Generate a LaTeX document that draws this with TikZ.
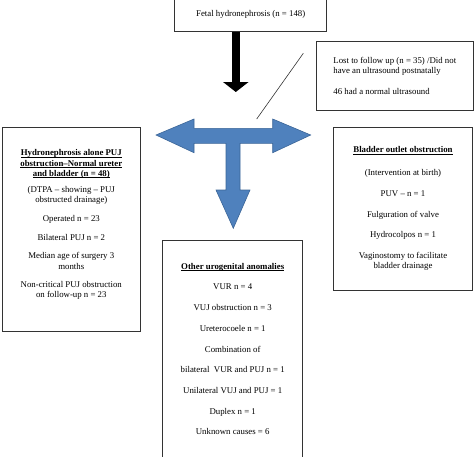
\documentclass[tikz,border=0pt]{standalone}
\usepackage{amsmath}
\usepackage{fontspec}
\setmainfont{Liberation Serif}
\usetikzlibrary{arrows.meta}
\definecolor{arrowblue}{HTML}{4F81BD}
\definecolor{arrowedge}{HTML}{3B6597}
\newcommand{\headline}[1]{\underline{\smash[b]{\textbf{#1}}}}

\begin{document}
\begin{tikzpicture}[x=1pt,y=-1pt,
    box/.style={draw=black!80,line width=0.8pt,fill=white,inner sep=0pt,align=center,
      font=\fontsize{8.8}{10.3}\selectfont}]
    \useasboundingbox (0,0) rectangle (474,456); % page
    \node[box,minimum width=152pt,minimum height=34pt] (fetal) at (250.7,14.8)
      {Fetal hydronephrosis (n = 148)}; % top box
    \node[box,minimum width=157.5pt,minimum height=68.3pt,align=left] (lost) at (394.8,75.9)
      {Lost to follow up (n = 35) /Did not\\have an ultrasound postnatally\\[10.5pt]46 had a normal ultrasound}; % lost box
    \node[box,minimum width=137.5pt,minimum height=204.4pt] (puj) at (71.3,229.5)
      {\headline{Hydronephrosis alone PUJ}\\
       \headline{obstruction--Normal ureter}\\
       \headline{and bladder (n = 48)}\\[5.4pt]
       (DTPA -- showing -- PUJ\\obstructed drainage)\\[8.7pt]
       Operated n = 23\\[9pt]
       Bilateral PUJ n = 2\\[8pt]
       Median age of surgery 3\\months\\[8pt]
       Non-critical PUJ obstruction\\on follow-up n = 23\\[1.3pt]\mbox{}}; % left box
    \node[box,minimum width=139.4pt,minimum height=162.7pt] (outlet) at (403,208.7)
      {\headline{Bladder outlet obstruction}\\[12.4pt]
       (Intervention at birth)\\[10.4pt]
       PUV -- n = 1\\[10.4pt]
       Fulguration of valve\\[10.4pt]
       Hydrocolpos n = 1\\[10.4pt]
       Vaginostomy to facilitate\\bladder drainage}; % right box
    \node[box,minimum width=140pt,minimum height=218pt] (other) at (232.7,349)
      {\headline{Other urogenital anomalies}\\[10.4pt]
       VUR n = 4\\[10.4pt]
       VUJ obstruction n = 3\\[10.4pt]
       Ureterocoele n = 1\\[10.4pt]
       Combination of\\[10.4pt]
       bilateral~ VUR and PUJ n = 1\\[10.4pt]
       Unilateral VUJ and PUJ = 1\\[10.4pt]
       Duplex n = 1\\[10.4pt]
       Unknown causes = 6}; % bottom box
    \coordinate (down) at (235.8,92);
    \draw[line width=8.5pt,-{Triangle[width=25pt,length=10pt]}] (fetal.south -| down) -- (down); % black arrow
    \coordinate (slashTop) at (303.3,53.3);
    \coordinate (slashEnd) at (256.7,119);
    \draw[black!80,line width=0.6pt] (slashTop) -- (slashEnd); % diagonal line
    \draw[fill=arrowblue,draw=arrowedge,line width=0.6pt]
      (156,135) -- (194,119) -- (194,128.3) -- (272.7,128.3) -- (272.7,119) -- (310.7,135)
      -- (272.7,152.7) -- (272.7,143.3) -- (240,143.3) -- (240,190) -- (250,190)
      -- (233.3,228.3) -- (216,190) -- (226,190) -- (226,143.3) -- (194,143.3)
      -- (194,152.7) -- cycle; % blue three-way arrow
  \end{tikzpicture}
\end{document}
